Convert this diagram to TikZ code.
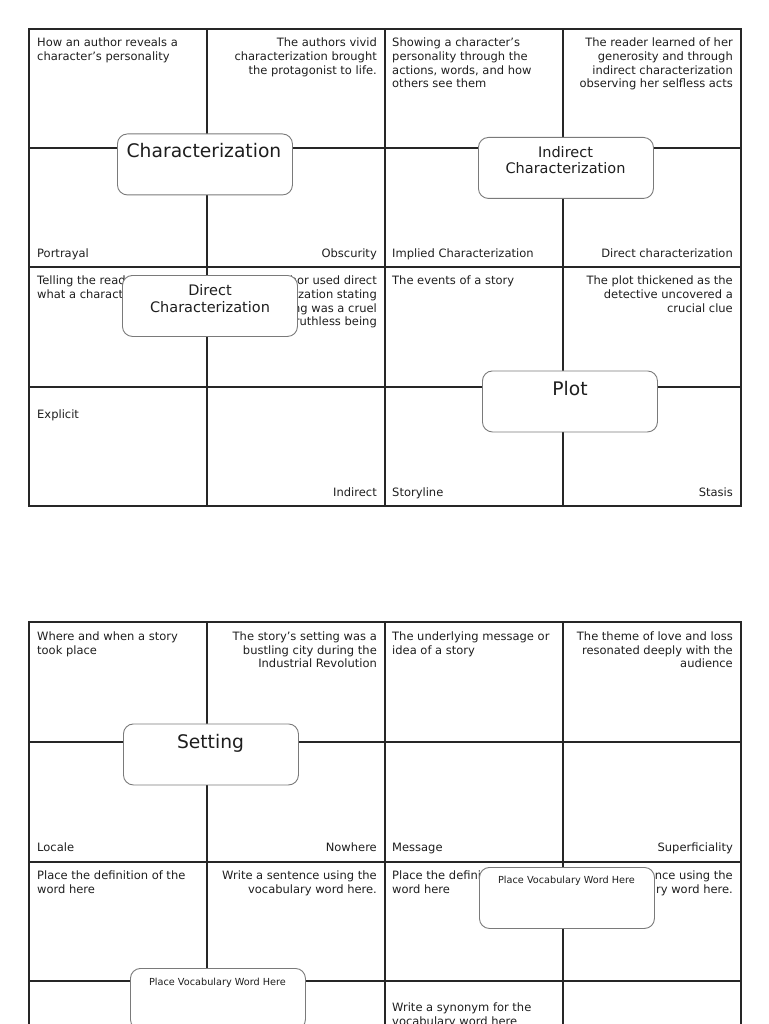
\documentclass[tikz,border=0pt]{standalone}
\usepackage{fontspec}
\setmainfont{DejaVu Sans}
\definecolor{ink}{HTML}{1E1E1E}
\definecolor{gridc}{HTML}{262626}
\definecolor{boxline}{HTML}{7A7A7A}
\begin{document}
\begin{tikzpicture}[x=1pt,y=-1pt,
  gridline/.style={draw=gridc, line width=1.1pt},
  midline/.style={draw=gridc, line width=2pt},
  cellfont/.style={font=\fontsize{11.5}{13.6}\selectfont, text=ink, inner sep=0pt},
  txtL/.style={cellfont, anchor=north west, align=left},
  txtR/.style={cellfont, anchor=north east, align=right},
  lblL/.style={cellfont, anchor=base west},
  lblR/.style={cellfont, anchor=base east},
  vocab/.style={draw=boxline, line width=0.9pt, fill=white, rounded corners=10pt,
    minimum width=175pt, minimum height=61pt, anchor=north west, inner sep=0pt},
  bigtitle/.style={anchor=base, inner sep=0pt, text=ink, font=\fontsize{18.7}{22}\selectfont},
  midtitle/.style={anchor=north, align=center, inner sep=0pt, text=ink, font=\fontsize{14.5}{16.6}\selectfont},
  smalltitle/.style={anchor=base, inner sep=0pt, text=ink, font=\fontsize{9.7}{11}\selectfont}
]
\useasboundingbox (0,0) rectangle (768,1024);
\clip (0,0) rectangle (768,1024);

% ---------- upper panel grid ----------
\draw[gridline] (29,29) rectangle (741,506);
\draw[gridline] (207,29) -- (207,506);
\draw[gridline] (563,29) -- (563,506);
\draw[gridline] (29,148) -- (741,148);
\draw[gridline] (29,267) -- (741,267);
\draw[gridline] (29,387) -- (741,387);
\draw[midline] (385,29) -- (385,506);

% ---------- lower panel grid ----------
\draw[gridline] (29,622) rectangle (741,1101);
\draw[gridline] (207,622) -- (207,1101);
\draw[gridline] (563,622) -- (563,1101);
\draw[gridline] (29,742) -- (741,742);
\draw[gridline] (29,862) -- (741,862);
\draw[gridline] (29,981) -- (741,981);
\draw[midline] (385,622) -- (385,1101);

% ---------- upper-left frame: Characterization ----------
\node[txtL] (c1def) at (37,38) {How an author reveals a\\character’s personality};
\node[txtR] (c1sen) at (377,38) {The authors vivid\\characterization brought\\the protagonist to life.};
\node[lblL] (c1syn) at (37,257) {Portrayal};
\node[lblR] (c1ant) at (377,257) {Obscurity};

% ---------- upper-right frame: Indirect Characterization ----------
\node[txtL] (c2def) at (392,38) {Showing a character’s\\personality through the\\actions, words, and how\\others see them};
\node[txtR] (c2sen) at (733,38) {The reader learned of her\\generosity and through\\indirect characterization\\observing her selfless acts};
\node[lblL] (c2syn) at (392,257) {Implied Characterization};
\node[lblR] (c2ant) at (733,257) {Direct characterization};

% ---------- second-row left: Direct Characterization ----------
\node[txtL] (c3def) at (37,276) {Telling the reader directly\\what a character is like};
\node[txtR] (c3sen) at (377,276) {The author used direct\\characterization stating\\the king was a cruel\\and ruthless being};
\node[lblL] (c3syn) at (37,418) {Explicit};
\node[lblR] (c3ant) at (377,496) {Indirect};

% ---------- second-row right: Plot ----------
\node[txtL] (c4def) at (392,276) {The events of a story};
\node[txtR] (c4sen) at (733,276) {The plot thickened as the\\detective uncovered a\\crucial clue};
\node[lblL] (c4syn) at (392,496) {Storyline};
\node[lblR] (c4ant) at (733,496) {Stasis};

% ---------- lower-left frame: Setting ----------
\node[txtL] (c5def) at (37,631.5) {Where and when a story\\took place};
\node[txtR] (c5sen) at (377,631.5) {The story’s setting was a\\bustling city during the\\Industrial Revolution};
\node[lblL] (c5syn) at (37,851) {Locale};
\node[lblR] (c5ant) at (377,851) {Nowhere};

% ---------- lower-right frame: Theme ----------
\node[txtL] (c6def) at (392,631.5) {The underlying message or\\idea of a story};
\node[txtR] (c6sen) at (733,631.5) {The theme of love and loss\\resonated deeply with the\\audience};
\node[lblL] (c6syn) at (392,851) {Message};
\node[lblR] (c6ant) at (733,851) {Superficiality};

% ---------- bottom-left template ----------
\node[txtL] (c7def) at (37,871) {Place the definition of the\\word here};
\node[txtR] (c7sen) at (377,871) {Write a sentence using the\\vocabulary word here.};

% ---------- bottom-right template ----------
\node[txtL] (c8def) at (392,871) {Place the definition of the\\word here};
\node[txtR] (c8sen) at (733,871) {Write a sentence using the\\vocabulary word here.};
\node[txtL] (c8syn) at (392,1002.5) {Write a synonym for the\\vocabulary word here};

% ---------- centre boxes ----------
\node[vocab] (b1) at (117,133.5) {};
\node[bigtitle] (t1) at (204,158) {Characterization};

\node[vocab] (b2) at (478,137) {};
\node[midtitle] (t2) at (565.5,146) {Indirect\\Characterization};

\node[vocab] (b3) at (122,275) {};
\node[midtitle] (t3) at (210,284.5) {Direct\\Characterization};

\node[vocab] (b4) at (482,370.5) {};
\node[bigtitle] (t4) at (570,395) {Plot};

\node[vocab] (b5) at (123,723.5) {};
\node[bigtitle] (t5) at (210.5,748.3) {Setting};

\node[vocab] (b6) at (130,968) {};
\node[smalltitle] (t6) at (217.5,985) {Place Vocabulary Word Here};

\node[vocab] (b7) at (479,867) {};
\node[smalltitle] (t7) at (566.5,883.3) {Place Vocabulary Word Here};
\end{tikzpicture}
\end{document}
